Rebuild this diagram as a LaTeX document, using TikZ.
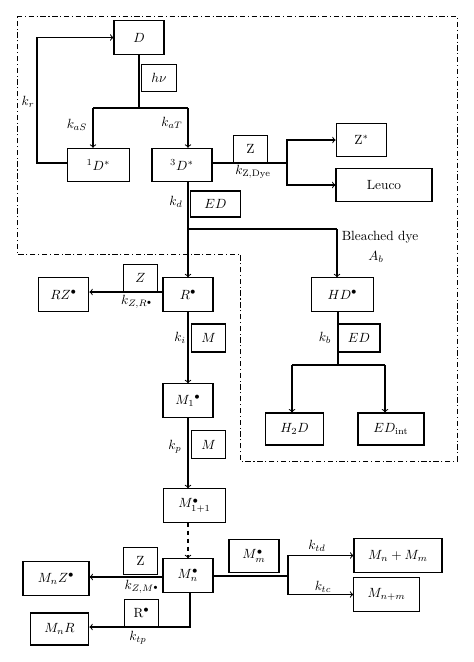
\documentclass[tikz,border=0pt]{standalone}
\usepackage{amsmath}
\usepackage{amssymb}
\usetikzlibrary{calc}

\begin{document}
\begin{tikzpicture}[x=0.75pt,y=0.75pt,yscale=-1,xscale=1,
  box/.style={draw, line width=0.8pt, inner sep=0pt, minimum height=25pt},
  tagbox/.style={draw, line width=0.8pt, inner sep=0pt, minimum width=26pt, minimum height=20.5pt},
  lbl/.style={inner sep=1pt},
  conn/.style={line width=0.8pt},
  >=to]
\useasboundingbox (0,0) rectangle (474,662);

%Shape: dash dot frame
\draw [dash pattern=on 4pt off 2pt on 0.8pt off 2pt, line width=0.7pt] (17,16) -- (457,16) -- (457,461) -- (240,461) -- (240,254) -- (17,254) -- cycle ;

%Shape: Rectangle nodes
\node [box, minimum width=37.5pt] (dye) at (139,37.5) {$D$};
\node [tagbox] (hnu) at (159,78) {$h\nu$};
\node [box, minimum width=47pt] (sing) at (98.5,165) {$^{1}D^{*}$};
\node [box, minimum width=45pt] (trip) at (182,165) {$^{3}D^{*}$};
\node [tagbox, anchor=south] (zq) at (250.5,163) {Z};
\node [box, minimum width=38pt] (zstar) at (361.5,140) {Z$^{*}$};
\node [box, minimum width=72pt] (leuco) at (384,185) {Leuco};
\node [tagbox, minimum width=37pt, minimum height=19.5pt] (edon) at (215.5,204) {$ED$};
\node [box, minimum width=46pt] (hdot) at (342.5,294.5) {$HD^{\bullet}$};
\node [box, minimum width=37.5pt] (rad) at (188,294.5) {$R^{\bullet}$};
\node [tagbox, anchor=south] (zr) at (140.5,292) {$Z$};
\node [box, minimum width=38pt] (rz) at (63.5,294.5) {$RZ^{\bullet}$};
\node [tagbox, minimum height=21pt] (mon) at (208.5,338) {$M$};
\node [tagbox, minimum width=31.5pt, minimum height=21pt] (edtwo) at (359,338) {$ED$};
\node [box, minimum width=37.5pt] (mone) at (188,400.5) {$M_1{}^{\bullet}$};
\node [tagbox, minimum height=21pt] (montwo) at (208.5,444.5) {$M$};
\node [box, minimum width=43pt, minimum height=24pt] (htwod) at (294.5,429) {$H_2D$};
\node [box, minimum width=49.5pt, minimum height=24pt] (edint) at (391,429) {$ED_{\text{int}}$};
\node [box, minimum width=47pt] (mnext) at (194.5,505.5) {$M^{\bullet}_{1+1}$};
\node [box, minimum width=37.5pt] (mn) at (188,575.5) {$M^{\bullet}_{n}$};
\node [tagbox, anchor=south] (zm) at (140.5,575) {Z};
\node [box, minimum width=49.5pt] (mnz) at (56,578.5) {$M_nZ^{\bullet}$};
\node [tagbox, anchor=south] (rtag) at (141.5,627) {R$^{\bullet}$};
\node [box, minimum width=44pt, minimum height=24pt] (mnr) at (59.5,629) {$M_nR$};
\node [box, minimum width=37.5pt] (mm) at (254,556) {$M^{\bullet}_{m}$};
\node [box, minimum width=66pt] (mnmm) at (398,555.5) {$M_n+M_m$};
\node [box, minimum width=49pt] (mnpm) at (386.5,594.5) {$M_{n+m}$};

%Branch points
\coordinate (sp) at (139,108);
\coordinate (spl) at (93,108);
\coordinate (spr) at (188,108);
\coordinate (zb) at (287,163);
\coordinate (bd) at (188,229);
\coordinate (bdr) at (337,229);
\coordinate (hb) at (338,365);
\coordinate (hbl) at (292,365);
\coordinate (hbr) at (385,365);
\coordinate (tb) at (288,576);

%Straight Lines
\draw [conn] (dye.south) -- (sp) ;
\draw [conn] (spl) -- (spr) ;
\draw [conn, ->] (spl) -- (spl |- sing.north) ;
\draw [conn, ->] (spr) -- (spr |- trip.north) ;
\draw [conn, ->] (sing.west |- 0,163) -- (37,163) |- (dye.west) ;
\draw [conn] (trip.east |- zb) -- (zb) ;
\draw [conn, ->] (zb) |- (zstar.west) ;
\draw [conn, ->] (zb) |- (leuco.west) ;
\draw [conn, ->] (rad.north |- trip.south) -- (rad.north) ;
\draw [conn] (bd) -- (bdr) ;
\draw [conn, ->] (bdr) -- (bdr |- hdot.north) ;
\draw [conn, ->] (rad.west |- 0,292) -- (rz.east |- 0,292) ;
\draw [conn, ->] (rad.south) -- (mone.north) ;
\draw [conn, ->] (mone.south) -- (mone.south |- mnext.north) ;
\draw [conn, ->, dashed] (mone.south |- mnext.south) -- (mn.north) ;
\draw [conn] (hb |- hdot.south) -- (hb) ;
\draw [conn] (hbl) -- (hbr) ;
\draw [conn, ->] (hbl) -- (hbl |- htwod.north) ;
\draw [conn, ->] (hbr) -- (hbr |- edint.north) ;
\draw [conn, ->] (mn.west |- 0,577) -- (mnz.east |- 0,577) ;
\draw [conn, ->] (190,0 |- mn.south) -- (190,627) -- (mnr.east |- 0,627) ;
\draw [conn] (mn.east |- tb) -- (tb) ;
\draw [conn, ->] (tb) |- (mnmm.west) ;
\draw [conn, ->] (tb) |- (mnpm.west) ;

% Text Node
\node [lbl] (lkr) at (28,102) {$k_r$};
\node [lbl] (lkas) at (77,125) {$k_{aS}$};
\node [lbl] (lkat) at (172,123) {$k_{aT}$};
\node [lbl] (lkzd) at (253,172) {$k_{\mathrm{Z,Dye}}$};
\node [lbl] (lkd) at (176,202) {$k_d$};
\node [lbl] (lbd) at (380,237) {Bleached dye};
\node [lbl] (lab) at (376,257) {$A_b$};
\node [lbl] (lkzr) at (137,302) {$k_{Z,R^{\bullet}}$};
\node [lbl] (lki) at (180,338) {$k_i$};
\node [lbl] (lkp) at (175,447) {$k_p$};
\node [lbl] (lkb) at (325,338) {$k_b$};
\node [lbl] (lkzm) at (142,587) {$k_{Z,M^{\bullet}}$};
\node [lbl] (lktp) at (138,638) {$k_{tp}$};
\node [lbl] (lktd) at (317,546) {$k_{td}$};
\node [lbl] (lktc) at (323,587) {$k_{tc}$};

\end{tikzpicture}
\end{document}
